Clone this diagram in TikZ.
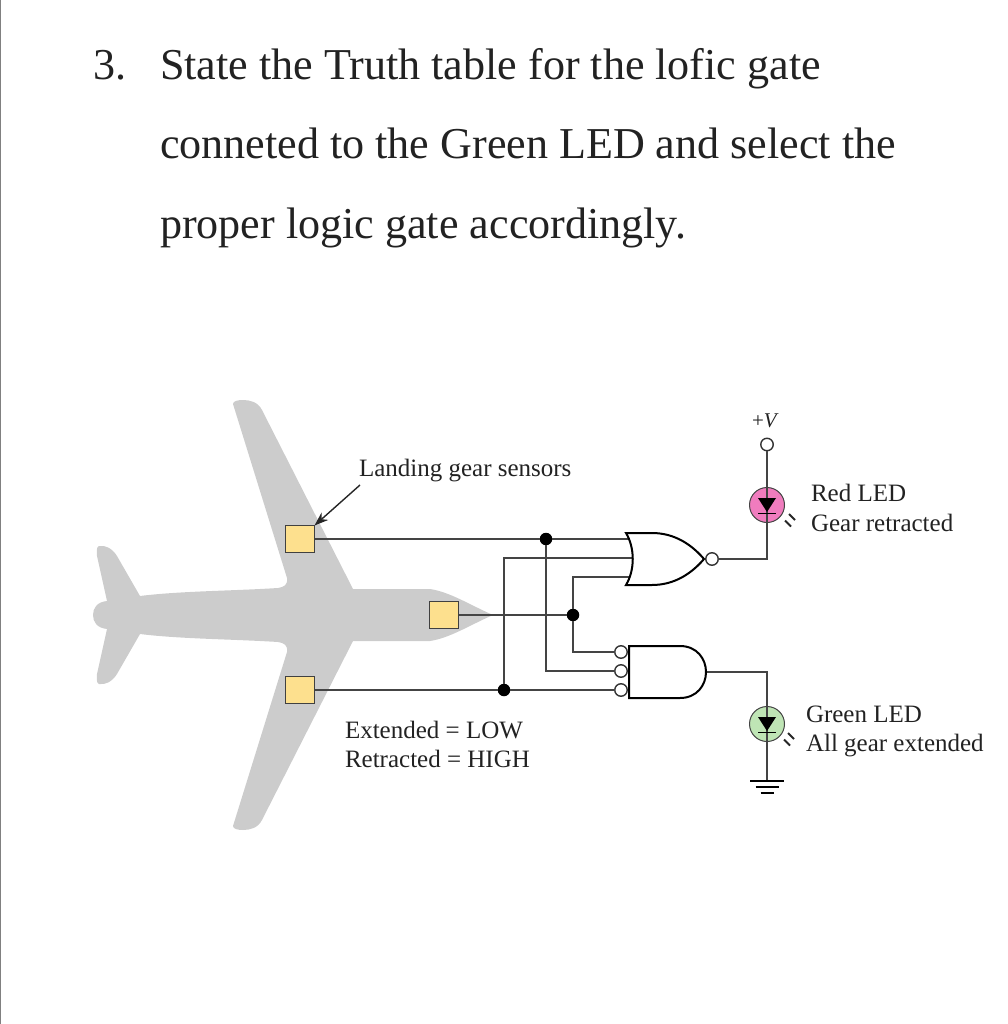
\documentclass[tikz,border=0pt]{standalone}
\usepackage{fontspec}
\setmainfont{Liberation Serif}
\usetikzlibrary{arrows.meta}
\definecolor{planegray}{HTML}{CCCCCC}
\definecolor{sensoryellow}{HTML}{FDE08E}
\definecolor{redled}{HTML}{F07CBE}
\definecolor{greenled}{HTML}{BFE5B5}
\definecolor{wirecol}{HTML}{444444}
\definecolor{inkcol}{HTML}{222222}
\tikzset{
  wire/.style={draw=wirecol,line width=1.5pt},
  gateline/.style={draw=black,line width=2pt,line join=miter,fill=white},
  sensor/.style={draw=black!75,line width=1.6pt,fill=sensoryellow,minimum width=29pt,minimum height=27pt,inner sep=0pt,outer sep=0pt},
  junction/.style={circle,fill=black,minimum size=12.5pt,inner sep=0pt,outer sep=0pt},
  bubble/.style={circle,draw=black!80,line width=1.4pt,fill=white,minimum size=12.5pt,inner sep=0pt,outer sep=0pt},
  ledbody/.style={circle,draw=wirecol,line width=1pt,minimum size=35pt,inner sep=0pt,outer sep=0pt},
  title/.style={anchor=base west,inner sep=0pt,outer sep=0pt,text=inkcol,font=\fontsize{44.1}{44.1}\selectfont},
  lab/.style={anchor=base west,inner sep=0pt,outer sep=0pt,text=inkcol,font=\fontsize{25}{25}\selectfont},
  beam/.style={draw=black!85,line width=2pt},
  gnd/.style={draw=black,line width=2pt}
}
\begin{document}
\begin{tikzpicture}[x=1pt,y=-1pt]
\useasboundingbox (0,0) rectangle (1007,1024);
\fill[gray] (0,0) rectangle (1.2,1024);
% title
\node[title] (t0) at (93,80) {3.};
\node[title] (t1) at (160,80) {State the Truth table for the lofic gate};
\node[title] (t2) at (160,159) {conneted to the Green LED and select the};
\node[title] (t3) at (160,238) {proper logic gate accordingly.};
% airplane
\fill[planegray] (493,615)
  .. controls (470,605) and (450,592) .. (430,589)
  -- (353,589) -- (262,410)
  .. controls (258,402) and (250,400) .. (243,400)
  .. controls (238,400) and (233,401) .. (233,404)
  -- (287,578)
  .. controls (288,585) and (284,587) .. (278,588)
  .. controls (230,591) and (180,591) .. (140,596)
  -- (117,556)
  .. controls (112,548) and (105,545) .. (99,546)
  .. controls (96,547) and (97,552) .. (97,556)
  -- (107,601)
  .. controls (97,602) and (93,608) .. (93,615)
  .. controls (93,622) and (97,628) .. (107,629)
  -- (97,674)
  .. controls (97,678) and (96,683) .. (99,684)
  .. controls (105,685) and (112,682) .. (117,674)
  -- (140,634)
  .. controls (180,639) and (230,639) .. (278,642)
  .. controls (284,643) and (288,645) .. (287,652)
  -- (233,826)
  .. controls (233,829) and (238,830) .. (243,830)
  .. controls (250,830) and (258,828) .. (262,820)
  -- (353,641) -- (430,641)
  .. controls (450,638) and (470,625) .. (493,615) -- cycle;
% sensors
\node[sensor] (s1) at (300,539) {};
\node[sensor] (s2) at (444,615) {};
\node[sensor] (s3) at (300,690) {};
% gate anchor points
\coordinate (norA) at (634,539);
\coordinate (norB) at (636,558);
\coordinate (norC) at (634,577);
\coordinate (elbowB) at (504,558);
\coordinate (elbowC) at (573,577);
\coordinate (elbowD) at (573,652);
\coordinate (elbowE) at (546,671);
\coordinate (corner1) at (767,559);
\coordinate (corner2) at (767,672);
% junctions and bubbles
\node[junction] (j1) at (546,539) {};
\node[junction] (j2) at (573,615) {};
\node[junction] (j3) at (504,690) {};
\node[bubble] (b1) at (621,652) {};
\node[bubble] (b2) at (621,671) {};
\node[bubble] (b3) at (621,690) {};
\node[bubble] (nb) at (712,559) {};
\node[bubble] (vcc) at (767,444.5) {};
% leds
\node[ledbody,fill=redled] (rl) at (767,505) {};
\node[ledbody,fill=greenled] (gl) at (767,724) {};
\coordinate (gnd) at (767,781);
\coordinate (aout) at (706,672);
% wires
\draw[wire] (s1.east) -- (j1) -- (norA);
\draw[wire] (j1) -- (elbowE) -- (b2.west);
\draw[wire] (s3.east) -- (j3) -- (b3.west);
\draw[wire] (j3) -- (elbowB) -- (norB);
\draw[wire] (s2.east) -- (j2);
\draw[wire] (norC) -- (elbowC) -- (j2) -- (elbowD) -- (b1.west);
\draw[wire] (nb.east) -- (corner1) -- (rl.south);
\draw[wire] (rl.north) -- (vcc.south);
\draw[wire] (aout) -- (corner2) -- (gl.north);
\draw[wire] (gl.south) -- (gnd);
% NOR gate
\path[gateline] (626,533) -- (652,533)
  .. controls (675,533) and (692,545) .. (704,559)
  .. controls (692,573) and (675,585) .. (652,585)
  -- (626,585)
  .. controls (635,570) and (635,548) .. (626,533) -- cycle;
% AND gate
\path[gateline] (629,646) -- (680,646)
  .. controls (697,646) and (706,659) .. (706,672)
  .. controls (706,685) and (697,698) .. (680,698)
  -- (629,698) -- cycle;
% LED symbols (triangle points down, bar below; y grows downward here)
\foreach \cx/\cy in {767/505,767/724}{
  \draw[wirecol,line width=1.5pt] (\cx,\cy-17) -- (\cx,\cy+17);
  \fill[black] (\cx-9,\cy-7) -- (\cx+9,\cy-7) -- (\cx,\cy+7) -- cycle;
  \draw[black,line width=1.6pt] (\cx-9,\cy+8.5) -- (\cx+9,\cy+8.5);
}
\draw[beam] (785,520.5) -- (791,526.5);
\draw[beam] (789,514) -- (795,520);
\draw[beam] (784,739.5) -- (790,745.5);
\draw[beam] (788,733) -- (794,739);
% ground
\draw[gnd] (750,781) -- (784,781);
\draw[gnd] (755.5,787) -- (778.5,787);
\draw[gnd] (760.5,793) -- (773.5,793);
% labels
\node[lab] (l1) at (359,476) {Landing gear sensors};
\coordinate (arrowstart) at (360,485);
\draw[draw=black!85,line width=1.4pt,-{Stealth[length=14pt,width=10pt]}] (arrowstart) -- (s1.north east);
\node[lab] (l2) at (345,738) {Extended = LOW};
\node[lab] (l3) at (345,767) {Retracted = HIGH};
\node[lab] (l4) at (811,501) {Red LED};
\node[lab] (l5) at (811,531) {Gear retracted};
\node[lab] (l6) at (806,722) {Green LED};
\node[lab] (l7) at (806,751) {All gear extended};
\node[lab,font=\fontsize{21}{21}\selectfont] (l8) at (752,427) {+\textit{V}};
\end{tikzpicture}
\end{document}
